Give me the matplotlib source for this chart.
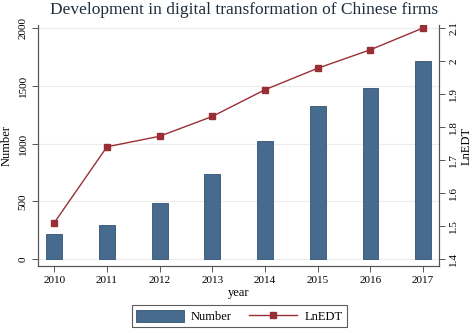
import matplotlib
matplotlib.use("Agg")
import matplotlib.pyplot as plt
from matplotlib.patches import Patch
from matplotlib.lines import Line2D

plt.rcParams["font.family"] = ["Liberation Serif", "DejaVu Serif"]

years = [2010, 2011, 2012, 2013, 2014, 2015, 2016, 2017]
number = [218, 296, 488, 736, 1020, 1325, 1477, 1713]
lnedt = [1.51, 1.74, 1.772, 1.832, 1.913, 1.978, 2.034, 2.10]

bar_color = "#476b8f"
line_color = "#9a2e37"

fig = plt.figure(figsize=(4.74, 3.33), dpi=100)
ax = fig.add_axes([0.080, 0.201, 0.846, 0.724])

ax.bar(years, number, width=0.3, color=bar_color, edgecolor="#34526f", linewidth=0.6, zorder=2)
ax.set_ylim(-60, 2026)
ax.set_xlim(2009.69, 2017.3)
ax.set_yticks([0, 500, 1000, 1500, 2000])
ax.set_xticks(years)
ax.grid(axis="y", color="#ececec", linewidth=0.8, zorder=0)
ax.set_axisbelow(True)
ax.tick_params(axis="both", labelsize=8, length=4, width=0.7, color="#555555")
for lab in ax.get_yticklabels():
    lab.set_rotation(90)
    lab.set_va("center")
ax.set_ylabel("Number", fontsize=9, labelpad=4)
ax.set_xlabel("year", fontsize=9, labelpad=1)
ax.spines["top"].set_visible(False)
for s in ["left", "bottom", "right"]:
    ax.spines[s].set_color("#555555")
    ax.spines[s].set_linewidth(0.8)

ax2 = ax.twinx()
ax2.plot(years, lnedt, color=line_color, linewidth=1.0, marker="s", markersize=5,
         markerfacecolor=line_color, markeredgecolor=line_color, zorder=3)
ax2.set_ylim(1.3788, 2.109)
ax2.set_yticks([1.4, 1.5, 1.6, 1.7, 1.8, 1.9, 2.0, 2.1])
ax2.set_yticklabels(["1.4", "1.5", "1.6", "1.7", "1.8", "1.9", "2", "2.1"])
ax2.tick_params(axis="y", labelsize=8, length=4, width=0.7, color="#555555")
for lab in ax2.get_yticklabels():
    lab.set_rotation(90)
    lab.set_va("center")
ax2.set_ylabel("LnEDT", fontsize=9, labelpad=2)
ax2.spines["top"].set_visible(False)
for s in ["left", "bottom", "right"]:
    ax2.spines[s].set_color("#555555")
    ax2.spines[s].set_linewidth(0.8)

fig.suptitle("Development in digital transformation of Chinese firms", fontsize=12.5, y=0.995,
             x=0.515, color="#1e2d3d")

handles = [Patch(facecolor=bar_color, edgecolor="#34526f", linewidth=0.6),
           Line2D([], [], color=line_color, linewidth=1.0, marker="s", markersize=5)]
leg = fig.legend(handles, ["Number", "LnEDT"], loc="center", bbox_to_anchor=(0.505, 0.05),
                 ncol=2, fontsize=9, frameon=True, fancybox=False, edgecolor="#333333",
                 handlelength=3.8, handleheight=1.1, handletextpad=0.6, columnspacing=1.4,
                 borderpad=0.35)
leg.get_frame().set_linewidth(0.8)

fig.savefig("out.png", dpi=100)
